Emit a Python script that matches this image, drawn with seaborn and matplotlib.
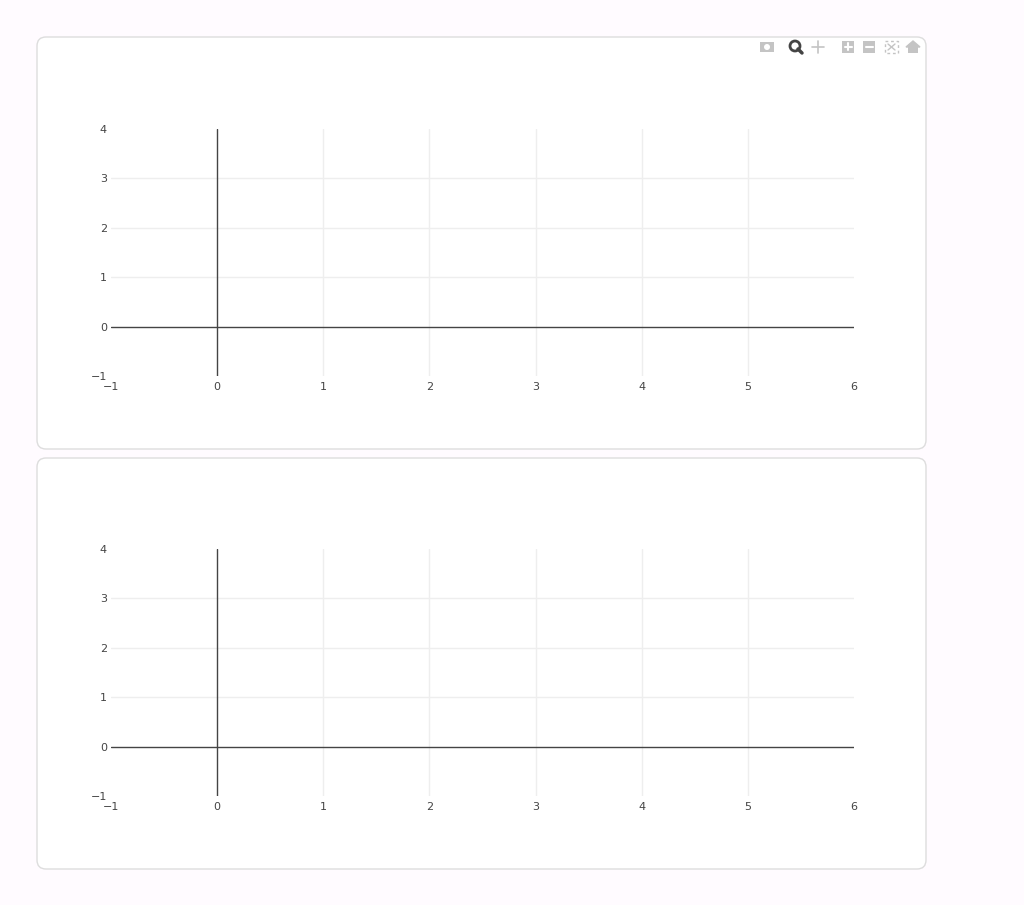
import numpy as np
import matplotlib
matplotlib.use("Agg")
import matplotlib.pyplot as plt
import seaborn as sns
from matplotlib.patches import FancyBboxPatch, Rectangle, Circle

# ---- data (empty charts, only the axis ranges / ticks) ----
x_ticks = [-1, 0, 1, 2, 3, 4, 5, 6]
y_ticks = [-1, 0, 1, 2, 3, 4]
x_range = [-1, 6]
y_range = [-1, 4]
series_x = []
series_y = []

W, H = 1024, 905
sns.set_theme(style="white")
plt.rcParams["font.family"] = ["DejaVu Sans"]

fig = plt.figure(figsize=(W / 100, H / 100), dpi=100)
fig.patch.set_facecolor("#fffbff")

# background layer in pixel coordinates
bg = fig.add_axes([0, 0, 1, 1], zorder=-1)
bg.set_xlim(0, W)
bg.set_ylim(H, 0)
bg.axis("off")

for top, bottom in [(37, 449), (458, 869)]:
    bg.add_patch(FancyBboxPatch((37, top), 926 - 37, bottom - top,
                                boxstyle="round,pad=0,rounding_size=9",
                                facecolor="white", edgecolor="#dddddd", lw=1))

# modebar icons (rough)
ic = "#c4c4c4"
yc = 47
bg.add_patch(Rectangle((760, yc - 5), 14, 10, facecolor=ic, edgecolor="none"))
bg.add_patch(Circle((767, yc), 3, facecolor="white", edgecolor="none"))
bg.add_patch(Circle((795, yc - 1), 5, facecolor="none", edgecolor="#444444", lw=2))
bg.plot([798, 802], [yc + 2, yc + 6], color="#444444", lw=2.5, solid_capstyle="round")
bg.plot([812, 824], [yc, yc], color=ic, lw=1.2)
bg.plot([818, 818], [yc - 6, yc + 6], color=ic, lw=1.2)
for cx, plus in [(848, True), (869, False)]:
    bg.add_patch(Rectangle((cx - 6, yc - 6), 12, 12, facecolor=ic, edgecolor="none"))
    bg.plot([cx - 3.5, cx + 3.5], [yc, yc], color="white", lw=1.5)
    if plus:
        bg.plot([cx, cx], [yc - 3.5, yc + 3.5], color="white", lw=1.5)
bg.add_patch(Rectangle((885, yc - 6), 13, 12, facecolor="none", edgecolor=ic, lw=1, ls=(0, (2, 2))))
bg.plot([888, 895], [yc - 3, yc + 3], color=ic, lw=1)
bg.plot([888, 895], [yc + 3, yc - 3], color=ic, lw=1)
bg.fill([906, 913, 920], [yc, yc - 6, yc], color=ic)
bg.add_patch(Rectangle((908, yc), 10, 6, facecolor=ic, edgecolor="none"))

# plot areas (pixel bounds)
left, right = 111, 854
for top, bottom in [(129, 376), (549, 796)]:
    ax = fig.add_axes([left / W, 1 - bottom / H, (right - left) / W, (bottom - top) / H])
    ax.set_facecolor("white")
    sns.lineplot(x=series_x, y=series_y, ax=ax)
    ax.set_xlim(*x_range)
    ax.set_ylim(*y_range)
    ax.set_xticks(x_ticks)
    ax.set_yticks(y_ticks)
    ax.set_xticklabels([f"{v}".replace("-", "\u2212") for v in x_ticks])
    ax.set_yticklabels([f"{v}".replace("-", "\u2212") for v in y_ticks])
    ax.grid(False)
    # grid only inside the range (plotly doesn't draw it on the edges)
    for v in x_ticks:
        if x_range[0] < v < x_range[1] and v != 0:
            ax.axvline(v, color="#eeeeee", lw=1, zorder=1)
    for v in y_ticks:
        if y_range[0] < v < y_range[1] and v != 0:
            ax.axhline(v, color="#eeeeee", lw=1, zorder=1)
    for s in ax.spines.values():
        s.set_visible(False)
    ax.axhline(0, color="#444444", lw=1, zorder=3)
    ax.axvline(0, color="#444444", lw=1, zorder=3)
    ax.tick_params(axis="both", length=0, labelsize=8, colors="#444444")
    ax.tick_params(axis="x", pad=4)
    ax.tick_params(axis="y", pad=3)
    ax.set_xlabel("")
    ax.set_ylabel("")

fig.savefig("out.png", dpi=100, facecolor=fig.get_facecolor())
